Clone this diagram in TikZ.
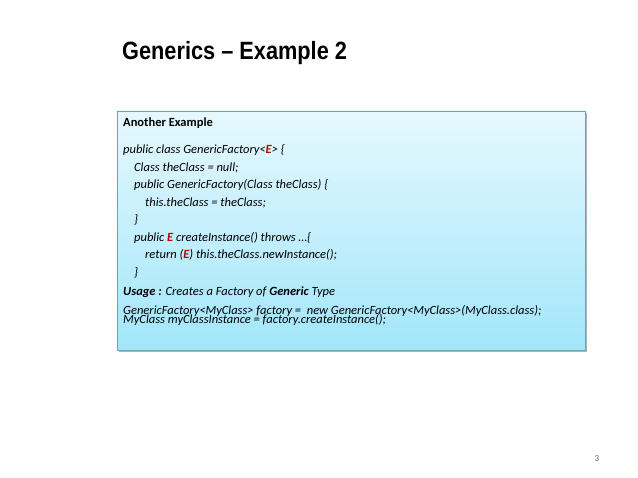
\documentclass[tikz,border=0pt]{standalone}
\usepackage{fontspec}
\setmainfont{Carlito}
\newfontfamily\titlefont{Liberation Sans}
\definecolor{boxtop}{HTML}{E6F8FE}
\definecolor{boxbot}{HTML}{A2E6FA}
\begin{document}
\begin{tikzpicture}[x=1pt,y=-1pt,
  ln/.style={anchor=base west,inner sep=0pt,font=\fontsize{12.5}{14}\selectfont\itshape}]
\useasboundingbox (0,0) rectangle (638,478);
\fill[white] (0,0) rectangle (638,478);
\node[anchor=base west,inner sep=0pt,xscale=0.87,font=\titlefont\bfseries\fontsize{25}{28}\selectfont] (title) at (122,60) {Generics – Example 2};
\fill[black!30] (119,113) rectangle (587,352);
\shade[top color=boxtop,bottom color=boxbot,draw=cyan!40!gray,line width=0.8pt] (117,111) rectangle (585,350);
\node[ln,font=\fontsize{12.5}{14}\selectfont\bfseries] (h) at (123,127) {Another Example};
\node[ln] (l1) at (123,154) {public class GenericFactory<\textcolor{red!75!black}{\bfseries E}> \{};
\node[ln] (l2) at (134,171.5) {Class theClass = null;};
\node[ln] (l3) at (134,189) {public GenericFactory(Class theClass) \{};
\node[ln] (l4) at (145,207) {this.theClass = theClass;};
\node[ln] (l5) at (134,224) {\}};
\node[ln] (l6) at (134,242) {public \textcolor{red!75!black}{\bfseries E} createInstance() throws …\{};
\node[ln] (l7) at (145,259) {return (\textcolor{red!75!black}{\bfseries E}) this.theClass.newInstance();};
\node[ln] (l8) at (134,277) {\}};
\node[ln] (l9) at (123,296) {\textbf{Usage :} Creates a Factory of \textbf{Generic} Type};
\node[ln] (l10) at (123,315) {GenericFactory<MyClass> factory =\ \ new GenericFactory<MyClass>(MyClass.class);};
\node[ln] (l11) at (123,324) {MyClass myClassInstance = factory.createInstance();};
\node[anchor=base,inner sep=0pt,font=\fontsize{9}{11}\selectfont,text=black!60] (pg) at (597,462) {3};
\end{tikzpicture}
\end{document}
